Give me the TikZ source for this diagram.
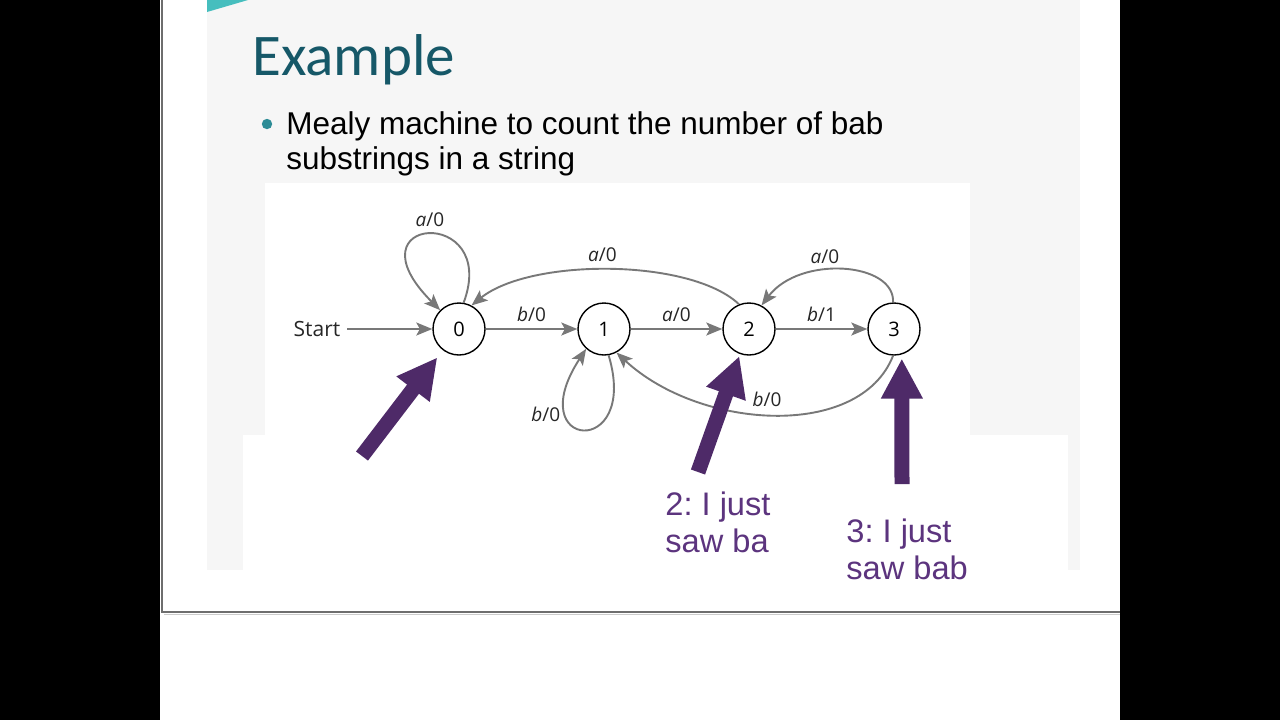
\documentclass[tikz,border=0pt]{standalone}
\usepackage{fontspec}
\setmainfont{Liberation Sans}
\newfontfamily\titlefont{Carlito}
\newfontfamily\diagfont{Open Sans}
\usepackage{tikz}
\usetikzlibrary{arrows.meta}
\definecolor{slidegray}{RGB}{246,246,246}
\definecolor{framegray}{RGB}{110,110,110}
\definecolor{titleteal}{RGB}{22,88,104}
\definecolor{bulletteal}{RGB}{45,140,150}
\definecolor{cornerteal}{RGB}{70,190,190}
\definecolor{edgegray}{RGB}{120,120,120}
\definecolor{arrowpurple}{RGB}{78,42,104}
\definecolor{notepurple}{RGB}{92,52,126}
\frenchspacing

\begin{document}
\begin{tikzpicture}[x=0.5pt,y=-0.5pt,
	state/.style={circle,draw=black,line width=0.7pt,fill=white,minimum size=26pt,inner sep=0pt,font=\diagfont\fontsize{10}{12}\selectfont},
	edge/.style={draw=edgegray,line width=0.95pt,-{Stealth[length=8pt,width=6.5pt,inset=1.8pt]}},
	lbl/.style={font=\diagfont\fontsize{9.5}{11}\selectfont,text=black!85},
	pointer/.style={draw=arrowpurple,line width=7.5pt,-{Triangle[length=20pt,width=19.5pt]}},
	note/.style={text=notepurple,font=\fontsize{16.3}{18.7}\selectfont,align=left,anchor=north west,inner sep=0pt}]
\useasboundingbox (0,0) rectangle (1280,720);
\fill[black] (0,0) rectangle (1280,720);
\fill[white] (160,0) rectangle (1120,720);
\fill[slidegray] (207,0) rectangle (1080,570);
\fill[white] (265,183) rectangle (970,435);
\fill[white] (243,435) rectangle (1068,570);
\fill[cornerteal] (207,0) -- (248,0) -- (207,12) -- cycle;
\draw[framegray,line width=1pt] (162,0) -- (162,612) -- (1120,612);
\draw[gray!40,line width=0.8pt] (164,614.5) -- (1120,614.5);

\node[anchor=base west,inner sep=0pt,text=titleteal,font=\titlefont\fontsize{29.5}{32}\selectfont] (title) at (252,75) {Example};
\fill[bulletteal] (267,124) circle (2.6pt);
\node[anchor=north west,inner sep=0pt,align=left,font=\fontsize{15.75}{17.5}\selectfont] (intro) at (286,111) {Mealy machine to count the number of bab\\substrings in a string};

	\node[state] (n0) at (459,329) {0};
	\node[state] (n1) at (604,329) {1};
	\node[state] (n2) at (749,329) {2};
	\node[state] (n3) at (894,329) {3};
	\node[lbl,font=\diagfont\fontsize{10.5}{12}\selectfont] (start) at (317,329) {Start};

	\draw[edge] (start) -- (n0);
	\draw[edge] (n0) -- (n1) node[lbl,midway,above] {\textit{b}/0};
	\draw[edge] (n1) -- (n2) node[lbl,midway,above] {\textit{a}/0};
	\draw[edge] (n2) -- (n3) node[lbl,midway,above] {\textit{b}/1};
	\draw[edge] (n0.80) .. controls (500,205) and (345,215) .. (n0.135) node[lbl,pos=.5,above] {\textit{a}/0};
	\draw[edge] (n1.-80) .. controls (640,460) and (520,450) .. (n1.-132) node[lbl,pos=.7,left] {\textit{b}/0};
	\draw[edge] (n2.112) .. controls (690,258) and (530,258) .. (n0.62) node[lbl,pos=.52,above] {\textit{a}/0};
	\draw[edge] (n3.92) .. controls (895,262) and (800,255) .. (n2.62) node[lbl,pos=.6,above] {\textit{a}/0};
	\draw[edge] (n3.-92) .. controls (860,440) and (700,430) .. (n1.-62) node[lbl,pos=.52,above] {\textit{b}/0};

\coordinate (p0) at (362,456);
\coordinate (p2) at (698,472);
\coordinate (p3) at (902,484);
\draw[pointer,shorten >=4.5pt] (p0) -- (n0);
\draw[pointer,shorten >=1pt] (p2) -- (n2);
\draw[pointer,shorten >=2pt] (p3) -- (n3.-73);

\node[note] (seen2) at (665,491) {2: I just\\saw ba};
\node[note] (seen3) at (846,518) {3: I just\\saw bab};
\end{tikzpicture}
\end{document}
